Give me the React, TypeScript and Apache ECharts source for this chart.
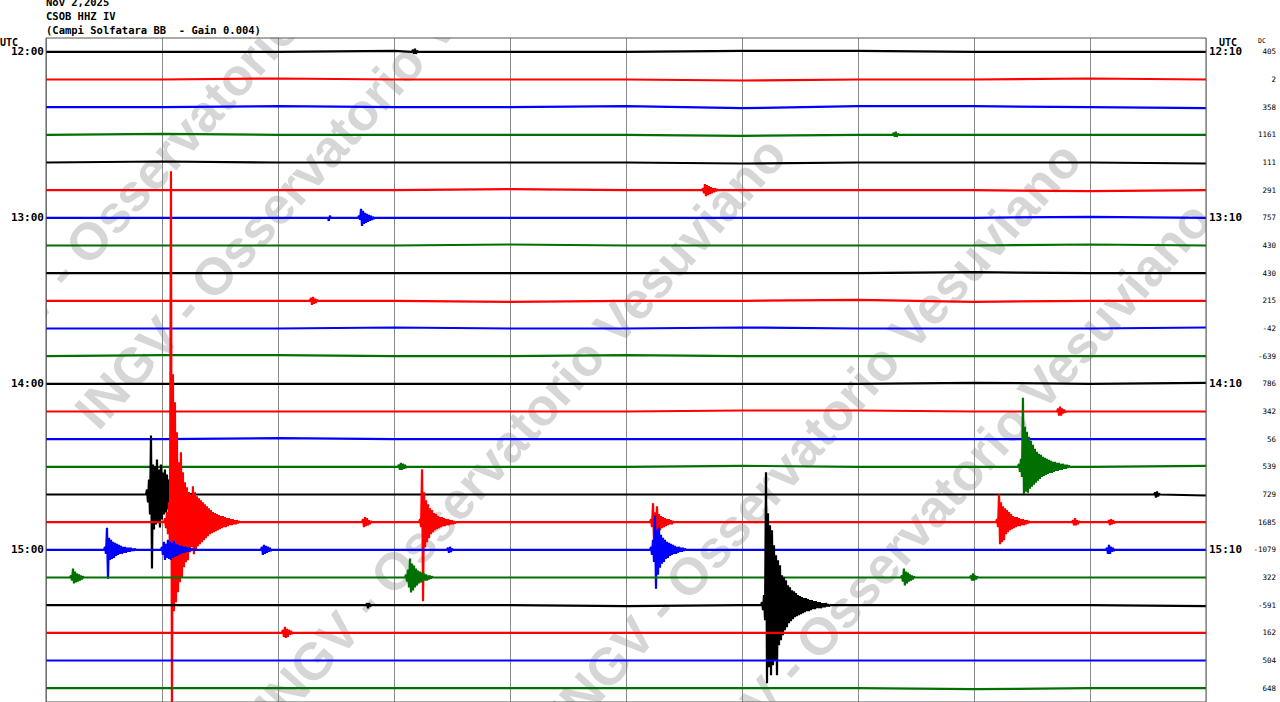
import React, { useEffect, useRef } from "react";
import * as echarts from "echarts";

// ---------- DATA ----------
const TRACE_COLORS = ["#000000", "#ff0000", "#0000ff", "#007000"];
const MINUTES = [0, 1, 2, 3, 4, 5, 6, 7, 8, 9, 10];
const LEFT_LABELS = ["12:00", "", "", "", "", "", "13:00", "", "", "", "", "", "14:00", "", "", "", "", "", "15:00", "", "", "", "", ""];
const RIGHT_LABELS = ["12:10", "", "", "", "", "", "13:10", "", "", "", "", "", "14:10", "", "", "", "", "", "15:10", "", "", "", "", ""];
const DC_VALUES = ["405", "2", "358", "1161", "111", "291", "757", "430", "430", "215", "-42", "-639", "786", "342", "56", "539", "729", "1685", "-1079", "322", "-591", "162", "504", "648"];
const HEADER = ["Nov 2,2025", "CSOB HHZ IV", "(Campi Solfatara BB  - Gain 0.004)"];
const WATERMARK = "INGV - Osservatorio Vesuviano";

// slow baseline drift of each trace, one value per minute (amplitude units, up positive)
const DRIFT: number[][] = [
  [0, 0, 0, 1, 0, 0, 1, 1, 0, 0, 0],
  [0, 0, 1, 0, 0, 0, -1, 0, 0, 1, 0],
  [0, 0, 1, 0, 0, 1, -1, 1, 1, 0, -1],
  [0, 1, 0, 0, 0, 0, -1, 0, 0, 0, 0],
  [0, 1, 0, 0, 0, 0, -1, 0, 0, 0, -1],
  [0, 0, 0, 0, 1, 0, 0, 0, 0, -1, 0],
  [0, 0, 0, 0, 0, 0, 0, 0, 0, 1, 0],
  [0, 0, 0, 0, 1, 0, 0, 0, 0, 1, 0],
  [0, 0, 0, 0, 0, 0, 0, 0, 1, 0, 0],
  [0, 0, 0, 0, -1, 0, 0, 1, -1, 0, 0],
  [0, 0, 0, 1, 0, 0, 1, 0, 0, 0, 1],
  [0, 1, 1, 0, 0, 1, 0, 0, 0, 0, 0],
  [0, 0, 0, 0, 0, 0, 0, 0, 1, 0, 1],
  [0, 0, 0, 0, 0, 0, 1, 1, 0, 0, 0],
  [0, 0, 1, 0, 0, 0, 0, 0, 0, 0, 0],
  [0, 0, 0, 0, 0, 0, 1, 0, 0, 0, 1],
  [0, 0, 0, 0, 0, 0, 0, 0, 0, 0, -1],
  [0, 0, 0, 0, 0, 0, 0, 0, 0, 0, 0],
  [0, 0, 0, 0, 0, 0, 0, 0, 0, 0, 0],
  [0, 0, 0, 0, 0, 0, 0, 0, 0, 0, 0],
  [0, 0, 0, 0, 0, -1, 0, 0, 0, 0, -1],
  [0, 0, 0, 0, 0, 0, 0, 0, 0, 0, 0],
  [0, 0, 0, 0, 0, 0, 0, 0, 0, 0, 0],
  [0, 0, 0, 0, 0, 0, 0, 0, -1, 0, 0],
];

// seismic events: trace row, start minute, sample step (min), amplitudes (up positive)
const EVENTS = [
  { row: 0, t0: 3.155, step: 0.0086, amps: [0, 2, -2, 3, -2, 1, 0] },
  { row: 3, t0: 7.3, step: 0.0086, amps: [0, 2, -2, 3, -2, 1, 0] },
  { row: 5, t0: 5.655, step: 0.0086, amps: [0, 2, -3, 6, -6, 5, -5, 4, -4, 3, -3, 2, -2, 2, -1, 1, 0] },
  { row: 6, t0: 2.43, step: 0.0086, amps: [0, -3, 2, 0] },
  { row: 6, t0: 2.69, step: 0.0086, amps: [0, 2, -2, 9, -8, 7, -6, 5, -5, 4, -4, 3, -3, 2, -2, 1, -1, 0] },
  { row: 9, t0: 2.276, step: 0.0086, amps: [0, 3, -4, 4, -3, 2, -2, 1, 0] },
  { row: 13, t0: 8.716, step: 0.0086, amps: [0, 3, -4, 5, -4, 3, -2, 2, -1, 0] },
  { row: 15, t0: 3.034, step: 0.0086, amps: [0, 2, -3, 4, -3, 3, -2, 2, -1, 0] },
  { row: 15, t0: 8.379, step: 0.0086, amps: [0, 3, -5, 8, -10, 69, -27, 40, -25, 35, -26, 30, -22, 26, -20, 22, -18, 18, -16, 15, -14, 13, -12, 12, -10, 10, -9, 9, -8, 8, -7, 7, -6, 6, -6, 5, -5, 5, -4, 4, -4, 4, -3, 3, -3, 3, -2, 2, -2, 2, -1, 1, 0] },
  { row: 16, t0: 0.862, step: 0.0086, amps: [0, 5, -8, 15, -20, 59, -74, 30, -35, 28, -30, 35, -28, 25, -33, 30, -25, 22, -20, 25, -18, 20, -15, 15, -12, 12, -10, 8, -8, 6, -6, 5, -5, 4, -4, 4, -3, 3, -3, 3, -2, 2, -2, 2, -1, 1, -1, 0] },
  { row: 16, t0: 9.552, step: 0.0086, amps: [0, 2, -3, 3, -2, 1, 0] },
  { row: 17, t0: 1.017, step: 0.0086, amps: [0, 4, -6, 10, -12, 20, -25, 351, -200, 148, -89, 120, -80, 90, -70, 60, -60, 70, -55, 50, -45, 40, -40, 35, -38, 30, -30, 28, -25, 36, -32, 30, -28, 26, -24, 24, -22, 22, -20, 20, -18, 18, -16, 16, -14, 14, -12, 12, -11, 10, -10, 9, -9, 8, -8, 7, -7, 6, -6, 6, -5, 5, -5, 4, -4, 4, -3, 3, -3, 3, -2, 2, -2, 2, -1, 1, 0] },
  { row: 17, t0: 2.724, step: 0.0086, amps: [0, 3, -5, 5, -4, 4, -3, 2, -2, 1, 0] },
  { row: 17, t0: 3.216, step: 0.0086, amps: [0, 3, -5, 53, -79, 30, -25, 22, -20, 18, -16, 14, -12, 12, -10, 9, -8, 8, -7, 6, -6, 5, -5, 5, -4, 4, -4, 3, -3, 3, -3, 2, -2, 2, -2, 1, -1, 0] },
  { row: 17, t0: 5.207, step: 0.0086, amps: [0, 3, -5, 19, -20, 10, -12, 16, -14, 8, -8, 6, -6, 5, -5, 4, -4, 3, -3, 3, -2, 2, -2, 1, 0] },
  { row: 17, t0: 8.19, step: 0.0086, amps: [0, 3, -5, 28, -22, 20, -20, 16, -18, 14, -12, 12, -10, 10, -8, 8, -7, 6, -6, 5, -5, 5, -4, 4, -4, 3, -3, 3, -3, 2, -2, 2, -1, 1, 0] },
  { row: 17, t0: 8.845, step: 0.0086, amps: [0, 2, -3, 4, -3, 2, -2, 1, 0] },
  { row: 17, t0: 9.155, step: 0.0086, amps: [0, 2, -3, 3, -2, 2, -1, 0] },
  { row: 18, t0: 0.5, step: 0.0086, amps: [0, 3, -4, 22, -29, 12, -10, 10, -9, 8, -8, 7, -6, 6, -5, 5, -4, 4, -4, 3, -3, 3, -3, 2, -2, 2, -2, 2, -1, 1, -1, 1, 0] },
  { row: 18, t0: 0.991, step: 0.0086, amps: [0, 3, -5, 8, -10, 6, -8, 10, -9, 8, -10, 7, -8, 9, -7, 6, -6, 5, -5, 4, -4, 4, -3, 3, -3, 3, -2, 2, -2, 2, -1, 1, 0] },
  { row: 18, t0: 1.853, step: 0.0086, amps: [0, 3, -5, 5, -4, 4, -3, 3, -2, 2, -1, 0] },
  { row: 18, t0: 3.457, step: 0.0086, amps: [0, 2, -3, 3, -2, 1, 0] },
  { row: 18, t0: 5.207, step: 0.0086, amps: [0, 3, -5, 10, -12, 34, -39, 20, -25, 22, -18, 15, -14, 12, -12, 10, -9, 8, -8, 7, -6, 6, -5, 5, -4, 4, -4, 3, -3, 3, -2, 2, -2, 2, -1, 1, 0] },
  { row: 18, t0: 9.138, step: 0.0086, amps: [0, 2, -4, 5, -4, 3, -2, 2, -1, 0] },
  { row: 19, t0: 0.207, step: 0.0086, amps: [0, 2, -3, 9, -6, 6, -5, 4, -4, 3, -3, 2, -2, 1, 0] },
  { row: 19, t0: 3.095, step: 0.0086, amps: [0, 3, -4, 8, -10, 19, -15, 14, -13, 12, -10, 9, -8, 7, -6, 6, -5, 5, -4, 4, -3, 3, -3, 2, -2, 2, -1, 1, 0] },
  { row: 19, t0: 7.37, step: 0.0086, amps: [0, 2, -4, 9, -8, 6, -6, 5, -4, 3, -3, 2, -2, 1, 0] },
  { row: 19, t0: 7.966, step: 0.0086, amps: [0, 2, -3, 4, -3, 2, -2, 1, 0] },
  { row: 20, t0: 2.759, step: 0.0086, amps: [0, 2, -3, 2, -1, 0] },
  { row: 20, t0: 6.164, step: 0.0086, amps: [0, 3, -5, 10, -15, 133, -78, 92, -62, 80, -70, 75, -60, 60, -55, 50, -70, 45, -40, 40, -35, 30, -30, 28, -25, 25, -22, 20, -18, 18, -16, 15, -14, 14, -12, 12, -11, 10, -10, 9, -9, 8, -8, 7, -7, 7, -6, 6, -6, 5, -5, 5, -4, 4, -4, 4, -3, 3, -3, 3, -3, 2, -2, 2, -2, 2, -1, 1, -1, 0] },
  { row: 21, t0: 2.034, step: 0.0086, amps: [0, 3, -4, 6, -5, 4, -4, 3, -2, 2, -1, 0] },
];

// ---------- CHART ----------
const ROW_SPACING = 27.67; // amplitude units between trace baselines
const MONO = "'DejaVu Sans Mono', monospace";

function buildRow(r: number): number[][] {
  const evs = EVENTS.filter((e) => e.row === r);
  const spans = evs.map((e) => [e.t0, e.t0 + e.step * (e.amps.length - 1)]);
  const pts: number[][] = [];
  MINUTES.forEach((t, k) => {
    if (!spans.some(([a, b]) => t >= a && t <= b)) pts.push([t, r * ROW_SPACING - DRIFT[r][k]]);
  });
  evs.forEach((e) => e.amps.forEach((a, j) => pts.push([e.t0 + j * e.step, r * ROW_SPACING - a])));
  pts.sort((p, q) => p[0] - q[0]);
  return pts;
}

const WATERMARK_POS = [
  [-40, 385],
  [85, 420],
  [265, 715],
  [560, 720],
  [690, 780],
];

export default function App() {
  const ref = useRef<HTMLDivElement>(null);
  useEffect(() => {
    if (!ref.current) return;
    const chart = echarts.init(ref.current, undefined, { renderer: "svg" });
    const nRows = DC_VALUES.length;
    const series = Array.from({ length: nRows }, (_, r) => ({
      type: "line",
      xAxisIndex: 0,
      yAxisIndex: 0,
      data: buildRow(r),
      showSymbol: false,
      symbol: "none",
      silent: true,
      lineStyle: { color: TRACE_COLORS[r % 4], width: 2.2 },
      z: 3,
    }));

    const catAxis = (data: string[], position: string, label: any) => ({
      type: "category",
      data,
      inverse: true,
      position,
      z: 20,
      axisLine: { show: false },
      axisTick: { show: false },
      splitLine: { show: false },
      axisLabel: { interval: 0, color: "#000", fontFamily: MONO, ...label },
    });

    const graphics: any[] = [];
    // watermark (below traces)
    WATERMARK_POS.forEach(([x, y]) =>
      graphics.push({
        type: "text",
        x,
        y,
        rotation: 0.84,
        z: 1,
        silent: true,
        style: {
          text: WATERMARK,
          font: "bold 52px 'Liberation Sans', Arial, sans-serif",
          fill: "#d6d6d6",
          textVerticalAlign: "middle",
        },
      })
    );
    // white margins so the watermark stays inside the plot frame
    [
      [0, 0, 1280, 37.5],
      [0, 0, 45.5, 702],
      [1206.5, 0, 73.5, 702],
    ].forEach(([x, y, w, h]) =>
      graphics.push({ type: "rect", z: 5, silent: true, shape: { x, y, width: w, height: h }, style: { fill: "#fff" } })
    );
    HEADER.forEach((h, i) =>
      graphics.push({
        type: "text",
        left: 46,
        top: [-4, 10, 24][i],
        z: 20,
        style: { text: h, font: `bold 10.5px ${MONO}`, fill: "#000" },
      })
    );
    graphics.push({ type: "text", left: 0, top: 37, z: 20, style: { text: "UTC", font: `bold 10px ${MONO}`, fill: "#000" } });
    graphics.push({ type: "text", left: 1219, top: 37, z: 20, style: { text: "UTC", font: `bold 10px ${MONO}`, fill: "#000" } });
    graphics.push({ type: "text", left: 1258, top: 37, z: 20, style: { text: "DC", font: `6.5px ${MONO}`, fill: "#000" } });

    chart.setOption({
      animation: false,
      backgroundColor: "#fff",
      grid: { left: 46, right: 74, top: 38, bottom: 0, show: true, borderColor: "#555", borderWidth: 1, backgroundColor: "transparent", z: 10 },
      xAxis: {
        type: "value",
        min: 0,
        max: 10,
        interval: 1,
        z: 2,
        axisLine: { show: false },
        axisTick: { show: false },
        axisLabel: { show: false },
        splitLine: { show: true, lineStyle: { color: "#8a8a8a", width: 1 } },
      },
      yAxis: [
        {
          type: "value",
          inverse: true,
          min: -0.5 * ROW_SPACING,
          max: 23.5 * ROW_SPACING,
          show: false,
          splitLine: { show: false },
        },
        catAxis(LEFT_LABELS, "left", { margin: 2, fontSize: 11, fontWeight: "bold" }),
        catAxis(RIGHT_LABELS, "right", { margin: 3, fontSize: 11, fontWeight: "bold" }),
        catAxis(DC_VALUES, "right", { margin: 70, fontSize: 7.5, align: "right" }),
      ],
      graphic: graphics,
      series,
    });
    return () => chart.dispose();
  }, []);
  return <div ref={ref} style={{ position: "absolute", left: 0, top: 0, width: 1280, height: 702 }} />;
}
